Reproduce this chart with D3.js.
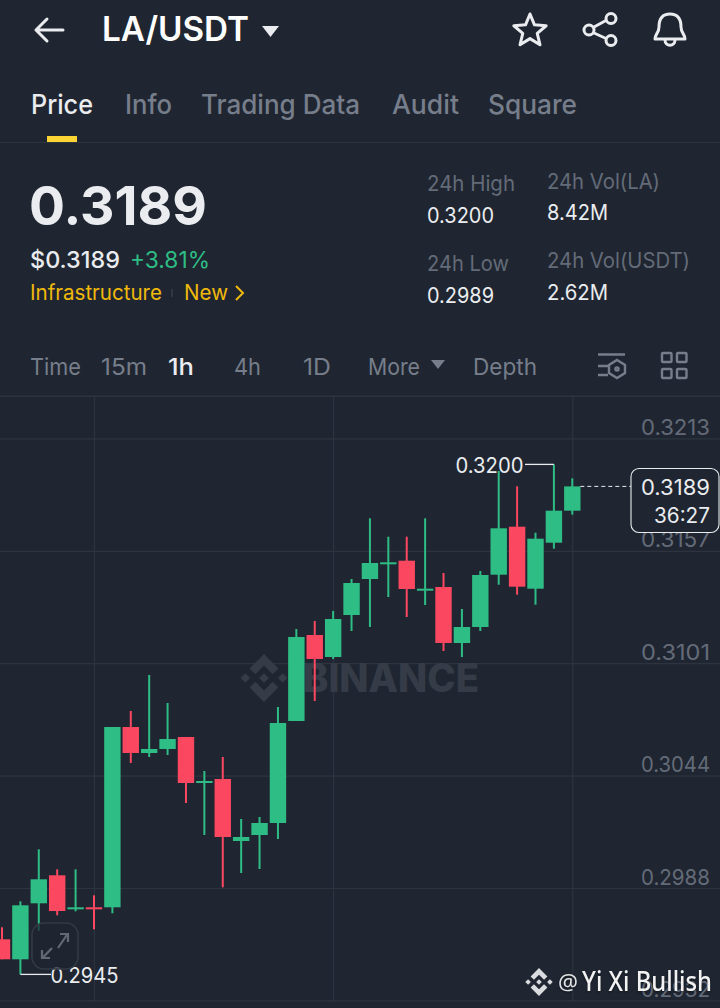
<!DOCTYPE html>
<html><head><meta charset="utf-8">
<script src="https://cdnjs.cloudflare.com/ajax/libs/d3/7.8.5/d3.min.js"></script>
<style>html,body{margin:0;padding:0;background:#1f2631;overflow:hidden}svg{display:block}text{font-family:Inter,"Open Sans",sans-serif}</style>
</head><body><svg id="c" width="720" height="1008"></svg>
<script>
// hourly candles, oldest first
const opens  = [.296255,.295255,.298055,.299455,.297755,.297855,.297855,.30687,.30557,.30577,.30637,.30407,.30427,.30117,.30147,.30207,.30717,.31147,.31037,.31247,.31427,.315005,.315185,.313685,.31387,.31107,.31187,.314485,.316885,.313785,.316085,.317685];
const highs  = [.296855,.298155,.300755,.299755,.299755,.298455,.30687,.30767,.30947,.30807,.30637,.30467,.30537,.30227,.30237,.30787,.31177,.31217,.31267,.31427,.317305,.316385,.316385,.317305,.31457,.31277,.31467,.31967,.318905,.316585,.3200,.319305];
const lows   = [.295255,.2945,.296685,.297455,.297655,.296755,.297555,.30507,.30537,.30547,.30307,.30147,.298855,.29957,.29977,.30127,.30717,.30817,.31027,.31167,.31187,.31337,.31237,.31297,.31067,.31037,.31167,.313985,.313485,.312985,.315785,.317485];
const closes = [.295255,.297955,.299255,.29767,.297855,.297755,.30687,.30557,.30577,.30627,.30407,.30417,.30137,.30137,.30207,.30707,.31137,.31027,.31227,.31407,.31507,.315105,.31377,.313785,.31107,.31187,.31447,.316805,.313885,.316285,.317685,.3189];
const priceTicks = [.3213,.31568,.31006,.30444,.29882,.2932];
const timeTicks = [5,18,31];
const lastPrice = .3189, highPrice = .3200, lowPrice = .2945;
const tabs = ["Price","Info","Trading Data","Audit","Square"];
const intervals = ["Time","15m","1h","4h","1D","More","Depth"];

const BG="#1f2631",GRID="#2d3440",GREEN="#2ebd85",RED="#fb4760",W="#eaecef",MUTED="#777e8b",DIM="#646b78",GOLD="#f0b90b";
const svg=d3.select("#c");
svg.append("rect").attr("width",720).attr("height",1008).attr("fill",BG);
function T(s,x,y,size,fill,w,weight,anchor,parent){
  const t=(parent||svg).append("text").text(s).attr("x",x).attr("y",y).attr("font-size",size).attr("fill",fill)
   .attr("font-weight",weight||400).attr("text-anchor",anchor||"start");
  if(w) t.attr("textLength",w).attr("lengthAdjust","spacingAndGlyphs");
  return t;
}
function logo(cx,cy,h,fill){
  const g=svg.append("g").attr("transform",`translate(${cx},${cy}) scale(${h})`).attr("fill",fill);
  [[[0,-.2],[.2,0],[0,.2],[-.2,0]],
   [[-.78,-.2],[-.58,0],[-.78,.2],[-.98,0]],
   [[.78,-.2],[.98,0],[.78,.2],[.58,0]],
   [[0,-1],[.6,-.4],[.36,-.16],[0,-.52],[-.36,-.16],[-.6,-.4]],
   [[0,1],[.6,.4],[.36,.16],[0,.52],[-.36,.16],[-.6,.4]]
  ].forEach(p=>g.append("polygon").attr("points",p.join(" ")));
}
// header
const ic=svg.append("g").attr("fill","none").attr("stroke",W).attr("stroke-width",3).attr("stroke-linecap","round").attr("stroke-linejoin","round");
ic.append("path").attr("d","M63 30H36M47 19L36 30L47 41");
T("LA/USDT",102,41,34,"#fff",147,600);
svg.append("path").attr("d","M262 26H279L270.5 37Z").attr("fill",W);
const starPts=d3.range(10).map(i=>{const r=i%2?7.6:17,a=-Math.PI/2+i*Math.PI/5;return [530+r*Math.cos(a),31+r*Math.sin(a)];});
ic.append("path").attr("d",d3.line().curve(d3.curveLinearClosed)(starPts));
ic.append("path").attr("d","M594 27L605 21M594 33L605 38");
[[589,30],[611,18.5],[611,40.5]].forEach(c=>ic.append("circle").attr("cx",c[0]).attr("cy",c[1]).attr("r",5));
ic.append("path").attr("d","M670 14C660 14 659 22 659 27C659 33 655 34 655 39H685C685 34 681 33 681 27C681 22 680 14 670 14ZM665 40C665 47 675 47 675 40");
// tabs
const tabBox=[[31,62],[125,47],[201,159],[392,67],[488,89]];
tabs.forEach((s,i)=>T(s,tabBox[i][0],114,27,i?MUTED:W,tabBox[i][1],500));
svg.append("rect").attr("x",47).attr("y",136).attr("width",30).attr("height",6).attr("fill","#fcd535");
svg.append("rect").attr("x",0).attr("y",142).attr("width",720).attr("height",1).attr("fill",GRID);
// summary
T(d3.format(".4f")(lastPrice),29,225,54,W,178,700);
T("$0.3189",30,268,23,W,90,500);
T("+3.81%",130,268,23,GREEN,80,400);
T("Infrastructure",30,300,21,GOLD,132,400);
svg.append("rect").attr("x",171.5).attr("y",289).attr("width",1).attr("height",8).attr("fill","#444b57");
T("New",184,300,21,GOLD,44,400);
svg.append("path").attr("d","M236 286L243 293L236 300").attr("fill","none").attr("stroke",GOLD).attr("stroke-width",2);
T("24h High",427,191,21,DIM,88);T("0.3200",427,223,21,W,67);
T("24h Vol(LA)",547,189,21,DIM,113);T("8.42M",547,220,21,W,61);
T("24h Low",427,271,21,DIM,82);T("0.2989",427,303,21,W,67);
T("24h Vol(USDT)",547,268,21,DIM,143);T("2.62M",547,300,21,W,61);
// intervals
const ivBox=[[30,51],[101,46],[168,26],[234,27],[303,28],[368,52],[473,64]];
intervals.forEach((s,i)=>T(s,ivBox[i][0],375,23,i==2?W:MUTED,ivBox[i][1],i==2?500:400));
svg.append("path").attr("d","M431 360H445L438 369Z").attr("fill",MUTED);
const ic2=svg.append("g").attr("fill","none").attr("stroke",MUTED).attr("stroke-width",2.4);
ic2.append("path").attr("d","M598 354.5H625M598 366H608M598 375H608M617 360L625 365V373L617 378L609 373V365Z");
ic2.append("circle").attr("cx",617).attr("cy",369).attr("r",1.6);
[[662,353],[677,353],[662,369],[677,369]].forEach(p=>ic2.append("rect").attr("x",p[0]).attr("y",p[1]).attr("width",9.5).attr("height",9).attr("rx",1));
// chart
svg.append("rect").attr("x",0).attr("y",395.5).attr("width",720).attr("height",1.5).attr("fill",GRID);
const x=d3.scaleLinear().domain([0,31]).range([2,572.3]);
const y=d3.scaleLinear().domain([.3213,.2932]).range([438.4,1000.4]);
const fmt=d3.format(".4f");
const gy=svg.append("g").call(d3.axisRight(y).tickValues(priceTicks).tickSize(720).tickFormat(fmt));
gy.select(".domain").remove();
gy.selectAll("line").attr("stroke",GRID).attr("stroke-width",1.2);
gy.selectAll("text").attr("x",710).attr("y",-7).attr("dy",3).attr("text-anchor","end").attr("font-size",21).attr("font-family","Inter").attr("fill",DIM).attr("textLength",69).attr("lengthAdjust","spacingAndGlyphs");
const gx=svg.append("g").attr("transform","translate(0,1001)").call(d3.axisBottom(x).tickValues(timeTicks).tickSize(-605).tickFormat(""));
gx.select(".domain").remove();
gx.selectAll("line").attr("stroke",GRID).attr("stroke-width",1.2);
logo(264,678,24,"#353c47");
T("BINANCE",303,692,39,"#353c47",176,800);
const candles=d3.range(opens.length).map(i=>({i,o:opens[i],h:highs[i],l:lows[i],c:closes[i]}));
const col=d=>d.c>=d.o?GREEN:RED;
const g=svg.append("g");
g.selectAll(".w").data(candles).join("line").attr("x1",d=>x(d.i)).attr("x2",d=>x(d.i)).attr("y1",d=>y(d.h)).attr("y2",d=>y(d.l)).attr("stroke",col).attr("stroke-width",2);
g.selectAll(".b").data(candles).join("rect").attr("x",d=>x(d.i)-8.2).attr("width",16.4).attr("y",d=>y(Math.max(d.o,d.c))).attr("height",d=>Math.max(2,Math.abs(y(d.o)-y(d.c)))).attr("fill",col);
// high / low markers
const hi=opens.length-2, lo=1;
svg.append("path").attr("d",`M${x(hi)} ${y(highPrice)}H525`).attr("stroke",W).attr("stroke-width",1.3).attr("fill","none");
T(fmt(highPrice),455.5,472.5,21,W,68);
svg.append("path").attr("d",`M${x(lo)} ${y(lowPrice)}H51`).attr("stroke",W).attr("stroke-width",1.3).attr("fill","none");
T(fmt(lowPrice),50.5,983,21,W,68);
// expand button
svg.append("rect").attr("x",32).attr("y",923).attr("width",46).attr("height",46).attr("rx",12).attr("fill",BG).attr("fill-opacity",.75).attr("stroke","#333a46").attr("stroke-width",1.6);
svg.append("path").attr("d","M58 948L67.5 934M60 934H68V942M52 948L43 957.5M42 950V958H50").attr("fill","none").attr("stroke","#626975").attr("stroke-width",2.2);
// last price
svg.append("line").attr("x1",x(31)+8).attr("x2",631).attr("y1",y(lastPrice)).attr("y2",y(lastPrice)).attr("stroke",W).attr("stroke-dasharray","4 3").attr("stroke-width",1);
svg.append("rect").attr("x",631).attr("y",468.5).attr("width",88).attr("height",64).attr("rx",8).attr("fill",BG).attr("stroke",W).attr("stroke-width",1.1);
T(fmt(lastPrice),710,495,21,W,69,400,"end");
T("36:27",710,523,21,W,56,400,"end");
// watermark
logo(539,982,14,"#d9dbde");
const wm=svg.append("g").style("filter","drop-shadow(0 1px 1px rgba(0,0,0,.45))");
T("@",558,990,22,"#e2e3e5",20,400,"start",wm).style("font-family","'Noto Sans'");
T("Yi Xi Bullish",582,991,27,"#f2f2f3",130,500,"start",wm).style("font-family","'Noto Sans'");
</script></body></html>
